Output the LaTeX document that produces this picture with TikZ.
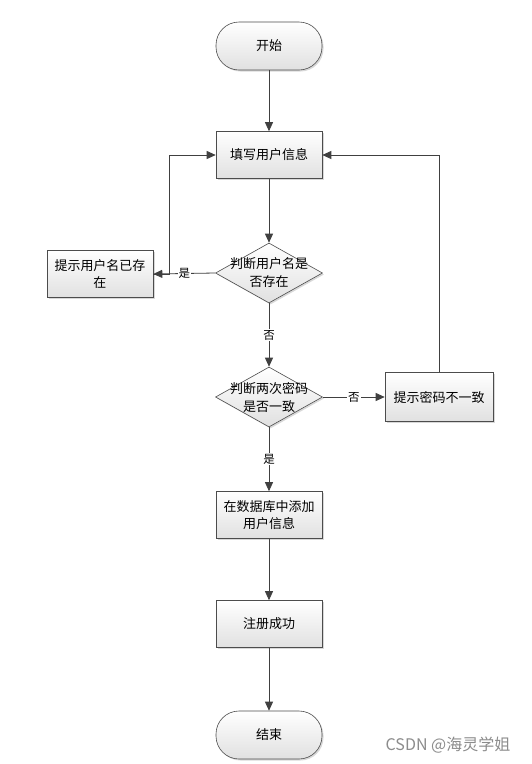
\documentclass[tikz,border=0pt]{standalone}
\usepackage{fontspec}
\setmainfont{Noto Sans CJK SC}
\usetikzlibrary{shapes.geometric,arrows.meta,shadows}

\tikzset{
  base/.style={draw=black!70, line width=0.6pt, top color=white, bottom color=black!12,
    drop shadow={shadow xshift=1.5pt,shadow yshift=-1.5pt,opacity=0.3},
    font=\fontsize{13}{17}\selectfont, align=center, inner sep=2pt},
  term/.style={base, rectangle, rounded corners=23pt, minimum width=106pt, minimum height=48pt},
  proc/.style={base, rectangle, minimum width=106pt, minimum height=47pt},
  dec/.style={base, diamond, minimum width=107pt, minimum height=60pt, inner sep=0pt},
  dtext/.style={font=\fontsize{13}{18}\selectfont, align=center},
  line/.style={draw=black!75, line width=0.8pt, -{Triangle[length=9pt,width=8pt]}},
  lab/.style={fill=white, inner sep=1pt, font=\fontsize{11.5}{13}\selectfont}
}

\begin{document}
\begin{tikzpicture}[x=1pt,y=-1pt]
        \fill [white] (0,0) rectangle (532,764);
        \useasboundingbox (0,0) rectangle (532,764);
        % nodes
        \node [term] (start) at (269,46) {开始};
        \node [proc] (fill) at (269,155) {填写用户信息};
        \node [dec] (chkname) at (269,273) {};
        \node [dtext] (chknamet) at (chkname) {判断用户名是\\否存在};
        \node [proc] (exists) at (100,274) {提示用户名已存\\在};
        \node [dec] (chkpwd) at (269,397) {};
        \node [dtext] (chkpwdt) at (chkpwd) {判断两次密码\\是否一致};
        \node [proc,minimum width=108pt,minimum height=49pt] (mismatch) at (439,397) {提示密码不一致};
        \node [proc] (addinfo) at (269,515) {在数据库中添加\\用户信息};
        \node [proc] (success) at (269,624) {注册成功};
        \node [term] (stop) at (269,735) {结束};
        \node [text=black!45, font=\fontsize{16}{18}\selectfont] (mark) at (448,745) {CSDN @海灵学姐};
        % connectors
        \draw [line] (start) -- (fill);
        \draw [line] (fill) -- (chkname);
        \draw [line] (chkname.west) -- (exists.east) node [lab,midway] {是};
        \draw [line] (exists.east) -- ++(16,0) |- (fill.west);
        \draw [line] (chkname.south) -- (chkpwd.north) node [lab,midway] {否};
        \draw [line] (chkpwd.east) -- (mismatch.west) node [lab,midway] {否};
        \draw [line] (mismatch.north) |- (fill.east);
        \draw [line] (chkpwd.south) -- (addinfo.north) node [lab,midway] {是};
        \draw [line] (addinfo) -- (success);
        \draw [line] (success) -- (stop);
    \end{tikzpicture}
\end{document}
